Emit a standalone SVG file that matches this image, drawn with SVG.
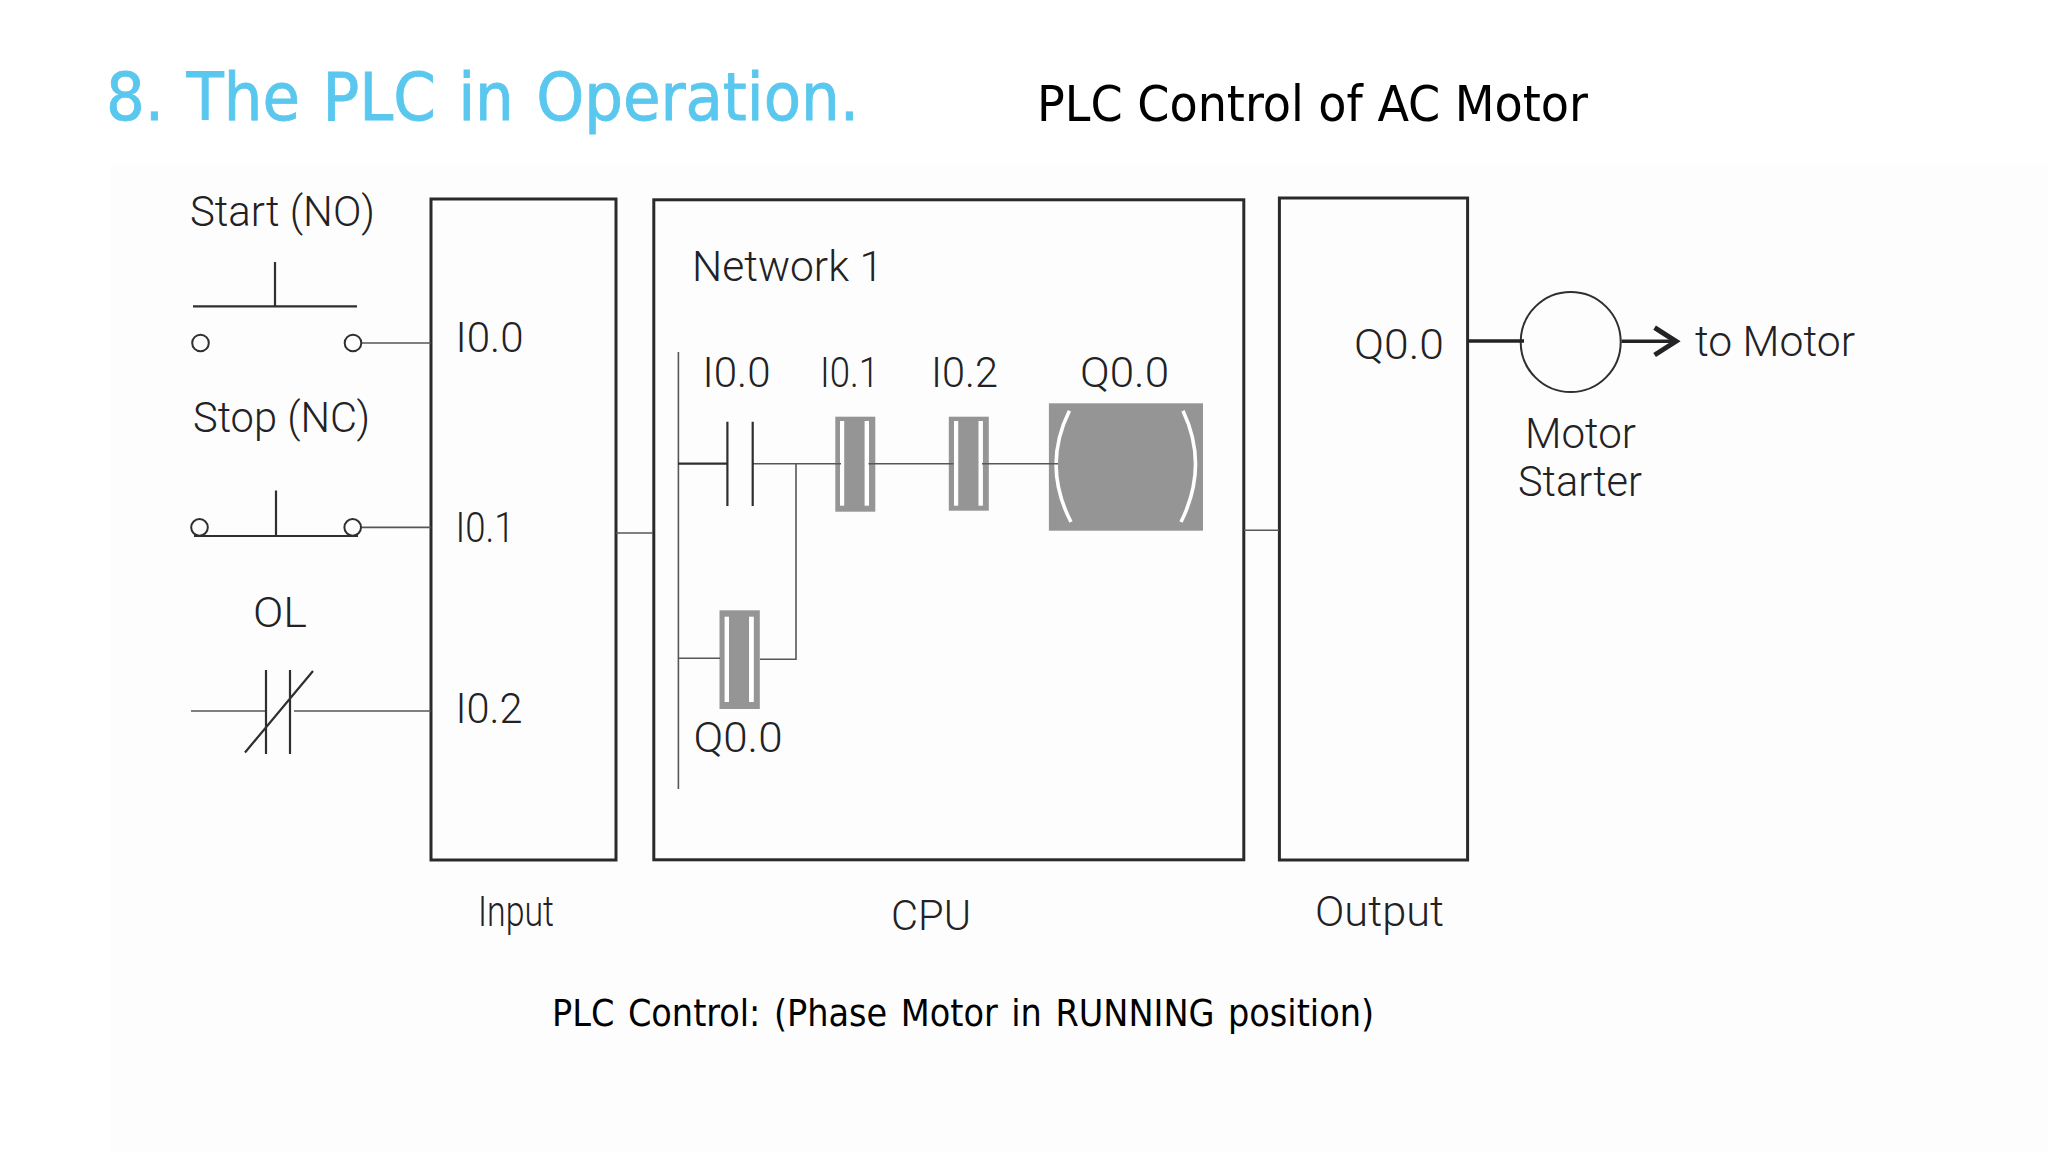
<svg xmlns="http://www.w3.org/2000/svg" width="2048" height="1152" viewBox="0 0 2048 1152">
<style>
text{font-family:"Roboto","Liberation Sans",sans-serif;font-weight:300;fill:#222224;font-size:42px}
.head{font-family:"DejaVu Sans Condensed","Noto Sans",sans-serif;font-weight:400}
.box{fill:#fefdfe;stroke:#2a2a2c;stroke-width:3}
.w{fill:none;stroke:#57575a;stroke-width:1.6}
.k{fill:none;stroke:#2f2f31;stroke-width:2.2}
.t{fill:none;stroke:#232325;stroke-width:3.6}
.g{fill:#959596}
.b{fill:#fff}
.c{fill:#fefdfe;stroke:#2f2f31;stroke-width:2}
.cv{fill:none;stroke:#fff;stroke-width:3.6}
</style>
<rect width="2048" height="1152" fill="#fff"/>
<rect id="panel" x="110" y="165" width="1938" height="987" fill="#fefdfe"/>
<text class="head" x="106" y="120" style="fill:#5ac7ee;stroke:#5ac7ee;stroke-width:.8;font-size:66px;word-spacing:3px" textLength="753" lengthAdjust="spacingAndGlyphs">8. The PLC in Operation.</text>
<text class="head" x="1037" y="121" style="fill:#000;font-size:49px" textLength="551" lengthAdjust="spacingAndGlyphs">PLC Control of AC Motor</text>
<text class="head" x="552" y="1026" style="fill:#000;font-size:38px;word-spacing:3px" textLength="822" lengthAdjust="spacingAndGlyphs">PLC Control: (Phase Motor in RUNNING position)</text>
<g id="input-block">
<rect class="box" x="431" y="199" width="185" height="661"/>
<text x="455.5" y="352.4" textLength="68" lengthAdjust="spacingAndGlyphs">I0.0</text>
<text x="455.5" y="542" textLength="59" lengthAdjust="spacingAndGlyphs">I0.1</text>
<text x="455.5" y="723" textLength="67" lengthAdjust="spacingAndGlyphs">I0.2</text>
<text x="478" y="926" textLength="76" lengthAdjust="spacingAndGlyphs">Input</text>
</g>
<g id="cpu-block">
<rect class="box" x="653.8" y="199.8" width="590" height="660"/>
<text x="692" y="281" textLength="191" lengthAdjust="spacingAndGlyphs">Network 1</text>
<text x="702.5" y="386.7" textLength="68" lengthAdjust="spacingAndGlyphs">I0.0</text>
<text x="820" y="386.7" textLength="59" lengthAdjust="spacingAndGlyphs">I0.1</text>
<text x="931" y="386.7" textLength="67" lengthAdjust="spacingAndGlyphs">I0.2</text>
<text x="1080" y="386.7" textLength="89" lengthAdjust="spacingAndGlyphs">Q0.0</text>
<text x="693.5" y="752.3" textLength="89" lengthAdjust="spacingAndGlyphs">Q0.0</text>
<text x="891" y="930" textLength="80" lengthAdjust="spacingAndGlyphs">CPU</text>
</g>
<g id="output-block">
<rect class="box" x="1279.4" y="198" width="188.2" height="662"/>
<text x="1354" y="359" textLength="90" lengthAdjust="spacingAndGlyphs">Q0.0</text>
<text x="1315" y="926" textLength="129" lengthAdjust="spacingAndGlyphs">Output</text>
</g>
<g id="connectors">
<path class="w" d="M362 343H431M361 527.4H431M191 711H265M294 711H431M616 533H653M1244 530.3H1279"/>
<path class="w" d="M678.4 352V789"/>
<path class="k" d="M678 463.7H727"/>
<path class="w" d="M752.7 463.7H796"/>
</g>
<g id="start-switch">
<text x="190" y="226" textLength="185" lengthAdjust="spacingAndGlyphs">Start (NO)</text>
<path class="k" d="M193 306.4H357M275 262V306.4"/>
<circle class="c" cx="200.5" cy="343" r="8.3"/>
<circle class="c" cx="353" cy="343" r="8.3"/>
</g>
<g id="stop-switch">
<text x="193" y="432" textLength="177" lengthAdjust="spacingAndGlyphs">Stop (NC)</text>
<circle class="c" cx="199.5" cy="527.4" r="8.3"/>
<circle class="c" cx="352.7" cy="527.4" r="8.3"/>
<path class="k" d="M194 536H358M276 490.5V536"/>
</g>
<g id="overload">
<text x="253" y="627" textLength="54" lengthAdjust="spacingAndGlyphs">OL</text>
<path class="k" d="M266 670V754M290 670V754M245 752.5L313 671"/>
</g>
<g id="contact-i00">
<path class="k" d="M727.4 421.7V506M752.7 421.7V506"/>
</g>
<g id="contact-i01">
<rect class="g" x="835.3" y="416.7" width="40" height="95"/>
<rect class="b" x="840" y="421" width="4.2" height="84.7"/>
<rect class="b" x="864.6" y="421" width="4.4" height="84.7"/>
</g>
<g id="contact-i02">
<rect class="g" x="948.8" y="416.7" width="40" height="94"/>
<rect class="b" x="954" y="421" width="4.2" height="84.7"/>
<rect class="b" x="978.5" y="421" width="4.4" height="84.7"/>
</g>
<g id="contact-q00">
<rect class="g" x="719.5" y="610.3" width="40.3" height="98.7"/>
<rect class="b" x="724.6" y="616.7" width="4.4" height="85.3"/>
<rect class="b" x="749" y="616.7" width="4.8" height="85.3"/>
</g>
<g id="coil-q00">
<rect class="g" x="1048.9" y="403.3" width="154.1" height="127.4"/>
<path class="cv" d="M1069.4 410.7Q1042 466 1071 522M1183 410.7Q1209 466 1181 522"/>
</g>
<g id="rung-wires">
<path class="w" d="M796 463.7H841M796 463.7V659.3H760M678.4 658.3H720M868.5 463.7H953.5M982 463.7H1058"/>
</g>
<g id="motor-starter">
<circle class="c" cx="1570.7" cy="342" r="50"/>
<path class="t" d="M1468 341H1524M1621.5 341.3H1675"/>
<text x="1525" y="447.5" textLength="111" lengthAdjust="spacingAndGlyphs">Motor</text>
<text x="1518" y="496" textLength="124" lengthAdjust="spacingAndGlyphs">Starter</text>
</g>
<g id="to-motor">
<path fill="none" stroke="#232325" stroke-width="5" d="M1654.6 327.7L1676 341.3L1654.6 355"/>
<text x="1695" y="356" textLength="160" lengthAdjust="spacingAndGlyphs">to Motor</text>
</g>
</svg>
